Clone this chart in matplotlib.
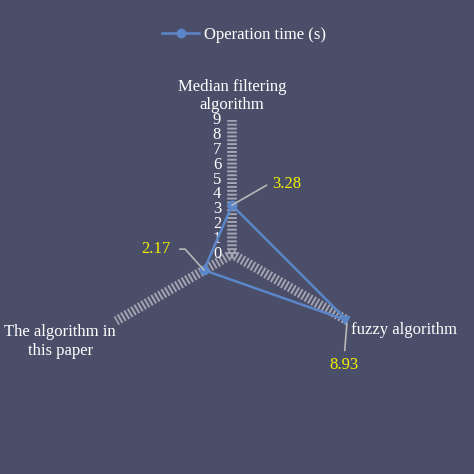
import numpy as np
import matplotlib
matplotlib.use("Agg")
import matplotlib.pyplot as plt

categories = ["Median filtering\nalgorithm", "fuzzy algorithm", "The algorithm in\nthis paper"]
values = [3.28, 8.93, 2.17]
series_name = "Operation time (s)"
rticks = [0, 1, 2, 3, 4, 5, 6, 7, 8, 9]

bg = "#4b4e68"
line_c = "#5b86c9"
plt.rcParams["font.family"] = ["Liberation Serif", "DejaVu Serif"]
FS = 12

fig = plt.figure(figsize=(4.74, 4.74), dpi=100, facecolor=bg)
cx, cy, r = 232 / 474, 1 - 254 / 474, 134 / 474
ax = fig.add_axes([cx - r, cy - r, 2 * r, 2 * r], projection="polar")
ax.set_facecolor(bg)
ax.patch.set_alpha(0)
ax.set_theta_offset(np.pi / 2)
ax.set_theta_direction(-1)
ax.set_ylim(0, 9)
ax.grid(False)
ax.spines["polar"].set_visible(False)
ax.set_xticks([])
ax.set_yticks([])

n = len(categories)
angles = [2 * np.pi * i / n for i in range(n)]

# striped axis bands
for a in angles:
    ax.plot([a, a], [0, rticks[-1]], color="#a4a4b2", lw=7, solid_capstyle="butt",
            dash_capstyle="butt", linestyle=(0, (0.2, 0.2)), zorder=1)

# radial tick labels
for t in rticks:
    ax.annotate(str(t), xy=(0, t), xytext=(-15, 0), textcoords="offset pixels",
                ha="center", va="center", color="white", fontsize=FS, zorder=3)

# category labels
ax.annotate(categories[0], xy=(angles[0], 9), xytext=(0, 7), textcoords="offset pixels",
            ha="center", va="bottom", color="white", fontsize=FS, linespacing=1.15,
            multialignment="center")
ax.annotate(categories[1], xy=(angles[1], 9), xytext=(3, -9), textcoords="offset pixels",
            ha="left", va="center", color="white", fontsize=FS)
ax.annotate(categories[2], xy=(angles[2], 9), xytext=(0, -3), textcoords="offset pixels",
            ha="right", va="top", color="white", fontsize=FS, multialignment="center",
            linespacing=1.25)

# series
th = angles + [angles[0]]
vv = values + [values[0]]
ax.plot(th, vv, color=line_c, lw=1.8, marker="o", ms=6, zorder=4, label=series_name)

# data labels with leader lines
lab_kw = dict(color="#f2f200", fontsize=FS, textcoords="offset pixels", zorder=5)
ax.annotate(f"{values[0]:.2f}", xy=(angles[0], values[0]), xytext=(40, 21),
            ha="left", va="center",
            arrowprops=dict(arrowstyle="-", color="#b8b8b8", lw=1.2, shrinkA=2, shrinkB=0,
                            relpos=(0, 0.5), connectionstyle="angle,angleA=0,angleB=30,rad=0"),
            **lab_kw)
ax.annotate(f"{values[1]:.2f}", xy=(angles[1], values[1]), xytext=(-3, -45),
            ha="center", va="center",
            arrowprops=dict(arrowstyle="-", color="#b8b8b8", lw=1.2, shrinkA=3, shrinkB=2,
                            relpos=(0.5, 1)),
            **lab_kw)
ax.annotate(f"{values[2]:.2f}", xy=(angles[2], values[2]), xytext=(-34, 21),
            ha="right", va="center",
            arrowprops=dict(arrowstyle="-", color="#b8b8b8", lw=1.2, shrinkA=5, shrinkB=0,
                            relpos=(1, 0.5), connectionstyle="angle,angleA=0,angleB=-48,rad=0"),
            **lab_kw)

leg = fig.legend(loc="center", bbox_to_anchor=(0.515, 0.926), frameon=False,
                 fontsize=FS, labelcolor="white", handlelength=2.2, handletextpad=0.3)

fig.savefig("out.png", dpi=100, facecolor=bg)
